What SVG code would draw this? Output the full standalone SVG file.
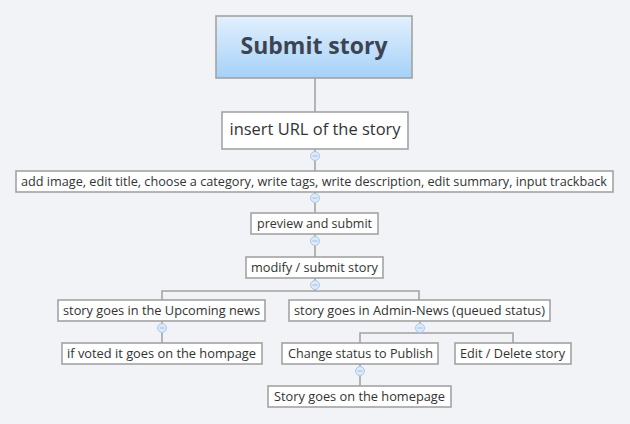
<svg xmlns="http://www.w3.org/2000/svg" width="630" height="424" viewBox="0 0 630 424">
<defs>
<linearGradient id="rootGrad" x1="0" y1="0" x2="0" y2="1">
<stop offset="0" stop-color="#e2f0fd"/>
<stop offset="1" stop-color="#a6d1f8"/>
</linearGradient>
<style>
.box{fill:#ffffff;stroke:#a3a3a3;stroke-width:1.6}
.t{font-family:"Open Sans","Noto Sans","Liberation Sans",sans-serif;font-size:13px;fill:#333333}
.c{fill:none;stroke:#a3a3a3;stroke-width:1.6}
.k{fill:#dce9f8;stroke:#a9c8ec;stroke-width:1}
.km{stroke:#9fbfe6;stroke-width:1}
</style>
</defs>
<rect width="630" height="424" fill="#f2f3f7"/>
<g id="connectors">
<path class="c" d="M315 78V112"/>
<path class="c" d="M315 149V171"/>
<path class="c" d="M315 192V213"/>
<path class="c" d="M315 234V257"/>
<path class="c" d="M315 278V291M162 300V291H419V300"/>
<path class="c" d="M162 321V343"/>
<path class="c" d="M420 321V333M360 343V333H513V343"/>
<path class="c" d="M360 364V386"/>
<g id="collapse">
<circle class="k" cx="315" cy="156" r="4.5"/><path class="km" d="M312.5 156h5"/>
<circle class="k" cx="315" cy="198" r="4.5"/><path class="km" d="M312.5 198h5"/>
<circle class="k" cx="315" cy="241" r="4.5"/><path class="km" d="M312.5 241h5"/>
<circle class="k" cx="315" cy="285" r="4.5"/><path class="km" d="M312.5 285h5"/>
<circle class="k" cx="162" cy="328" r="4.5"/><path class="km" d="M159.5 328h5"/>
<circle class="k" cx="420" cy="328" r="4.5"/><path class="km" d="M417.5 328h5"/>
<circle class="k" cx="360" cy="371" r="4.5"/><path class="km" d="M357.5 371h5"/>
</g>
</g>
<g id="root">
<rect x="216" y="16" width="196" height="62" fill="url(#rootGrad)" stroke="#a3a3a3" stroke-width="1.6"/>
<text x="314" y="54" text-anchor="middle" font-family="'Open Sans','Noto Sans','Liberation Sans',sans-serif" font-size="23" font-weight="bold" fill="#3d4451" textLength="147" lengthAdjust="spacingAndGlyphs">Submit story</text>
</g>
<g id="n-url">
<rect class="box" x="222" y="112" width="186" height="37"/>
<text class="t" x="315" y="135" text-anchor="middle" font-size="16" style="font-size:16px" textLength="171" lengthAdjust="spacingAndGlyphs">insert URL of the story</text>
</g>
<g id="n-add">
<rect class="box" x="16" y="171" width="597" height="21"/>
<text class="t" x="21" y="186" textLength="586" lengthAdjust="spacingAndGlyphs">add image, edit title, choose a category, write tags, write description, edit summary, input trackback</text>
</g>
<g id="n-preview">
<rect class="box" x="251" y="213" width="127" height="21"/>
<text class="t" x="257" y="228" textLength="115" lengthAdjust="spacingAndGlyphs">preview and submit</text>
</g>
<g id="n-modify">
<rect class="box" x="246" y="257" width="137" height="21"/>
<text class="t" x="251" y="272" textLength="127" lengthAdjust="spacingAndGlyphs">modify / submit story</text>
</g>
<g id="n-upcoming">
<rect class="box" x="58" y="300" width="207" height="21"/>
<text class="t" x="63" y="315" textLength="197" lengthAdjust="spacingAndGlyphs">story goes in the Upcoming news</text>
</g>
<g id="n-admin">
<rect class="box" x="289" y="300" width="261" height="21"/>
<text class="t" x="294" y="315" textLength="251" lengthAdjust="spacingAndGlyphs">story goes in Admin-News (queued status)</text>
</g>
<g id="n-voted">
<rect class="box" x="62" y="343" width="200" height="21"/>
<text class="t" x="67" y="358" textLength="189" lengthAdjust="spacingAndGlyphs">if voted it goes on the hompage</text>
</g>
<g id="n-publish">
<rect class="box" x="282" y="343" width="156" height="21"/>
<text class="t" x="288" y="358" textLength="145" lengthAdjust="spacingAndGlyphs">Change status to Publish</text>
</g>
<g id="n-edit">
<rect class="box" x="455" y="343" width="116" height="21"/>
<text class="t" x="460" y="358" textLength="105" lengthAdjust="spacingAndGlyphs">Edit / Delete story</text>
</g>
<g id="n-homepage">
<rect class="box" x="268" y="386" width="183" height="21"/>
<text class="t" x="274" y="401" textLength="171" lengthAdjust="spacingAndGlyphs">Story goes on the homepage</text>
</g>
</svg>
